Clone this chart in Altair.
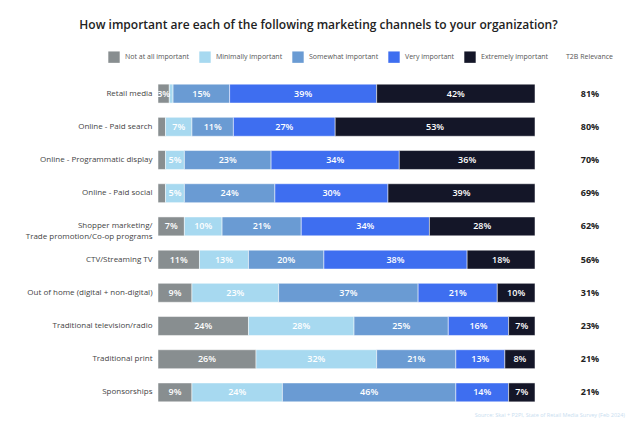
import altair as alt
import pandas as pd

channels = [
    "Retail media",
    "Online - Paid search",
    "Online - Programmatic display",
    "Online - Paid social",
    "Shopper marketing/|Trade promotion/Co-op programs",
    "CTV/Streaming TV",
    "Out of home (digital + non-digital)",
    "Traditional television/radio",
    "Traditional print",
    "Sponsorships",
]
levels = [
    "Not at all important",
    "Minimally important",
    "Somewhat important",
    "Very important",
    "Extremely important",
]
level_colors = ["#888E90", "#A7D9F0", "#6A9BD3", "#3E6EF0", "#141628"]

not_at_all = [3, 2, 2, 2, 7, 11, 9, 24, 26, 9]
minimally = [1, 7, 5, 5, 10, 13, 23, 28, 32, 24]
somewhat = [15, 11, 23, 24, 21, 20, 37, 25, 21, 46]
very = [39, 27, 34, 30, 34, 38, 21, 16, 13, 14]
extremely = [42, 53, 36, 39, 28, 18, 10, 7, 8, 7]
t2b = [81, 80, 70, 69, 62, 56, 31, 23, 21, 21]

series = [not_at_all, minimally, somewhat, very, extremely]
rows = []
for li, (lvl, vals) in enumerate(zip(levels, series)):
    for ch, v in zip(channels, vals):
        rows.append({"channel": ch, "level": lvl, "order": li, "value": v})
df = pd.DataFrame(rows)
t2b_df = pd.DataFrame({"channel": channels, "t2b": t2b})

FONT = "Open Sans"
y_enc = alt.Y(
    "channel:N",
    sort=channels,
    scale=alt.Scale(paddingInner=0.43, paddingOuter=0.215),
    axis=alt.Axis(
        title=None, ticks=False, domain=False, labelPadding=6,
        labelFontSize=8, labelColor="#444444", labelFont=FONT,
        labelLineHeight=11, labelExpr="split(datum.label, '|')",
    ),
)

base = alt.Chart(df).transform_stack(
    stack="value", groupby=["channel"], as_=["x0", "x1"],
    sort=[alt.SortField("order", order="ascending")],
)

bars = base.mark_bar(stroke="#ffffff", strokeWidth=0.5).encode(
    y=y_enc,
    x=alt.X("x0:Q", scale=alt.Scale(domain=[0, 100], nice=False), axis=None),
    x2="x1:Q",
    color=alt.Color(
        "level:N",
        sort=levels,
        scale=alt.Scale(domain=levels, range=level_colors),
        legend=alt.Legend(
            title=None, orient="none", direction="horizontal",
            legendX=-50, legendY=-26, symbolType="square", symbolSize=130,
            symbolStrokeWidth=0, labelFontSize=7, labelColor="#555555",
            labelFont=FONT, labelOffset=5, columnPadding=9, padding=0,
        ),
    ),
)

seg_labels = base.transform_filter("datum.value >= 3").transform_calculate(
    mid="(datum.x0 + datum.x1) / 2",
    lbl="datum.value + '%'",
).mark_text(color="white", fontSize=9, fontWeight=600, font=FONT).encode(
    y=alt.Y("channel:N", sort=channels),
    x=alt.X("mid:Q"),
    text="lbl:N",
)

t2b_text = alt.Chart(t2b_df).transform_calculate(
    lbl="datum.t2b + '%'"
).mark_text(color="#222222", fontSize=9, fontWeight="bold", font=FONT).encode(
    y=alt.Y("channel:N", sort=channels),
    x=alt.value(432),
    text="lbl:N",
)

header = alt.Chart(pd.DataFrame({"t": ["T2B Relevance"]})).mark_text(
    color="#555555", fontSize=7, font=FONT
).encode(x=alt.value(431.5), y=alt.value(-20), text="t:N")

source = alt.Chart(
    pd.DataFrame({"t": ["Source: Skai + P2PI, State of Retail Media Survey (Feb 2024)"]})
).mark_text(color="#C9DEF0", fontSize=5.5, font=FONT, align="right").encode(
    x=alt.value(467), y=alt.value(338), text="t:N"
)

chart = alt.layer(bars, seg_labels, t2b_text, header, source).properties(
    width=377,
    height=332,
    background="white",
    title=alt.TitleParams(
        "How important are each of the following marketing channels to your organization?",
        anchor="middle", dx=-28, offset=19, fontSize=12, fontWeight=600,
        font=FONT, color="#222222",
    ),
    autosize=alt.AutoSizeParams(type="none"),
    padding={"left": 158, "top": 77, "right": 105, "bottom": 14},
).configure_view(stroke=None)

chart.save("out.html", embed_options={"renderer": "svg", "actions": False})
